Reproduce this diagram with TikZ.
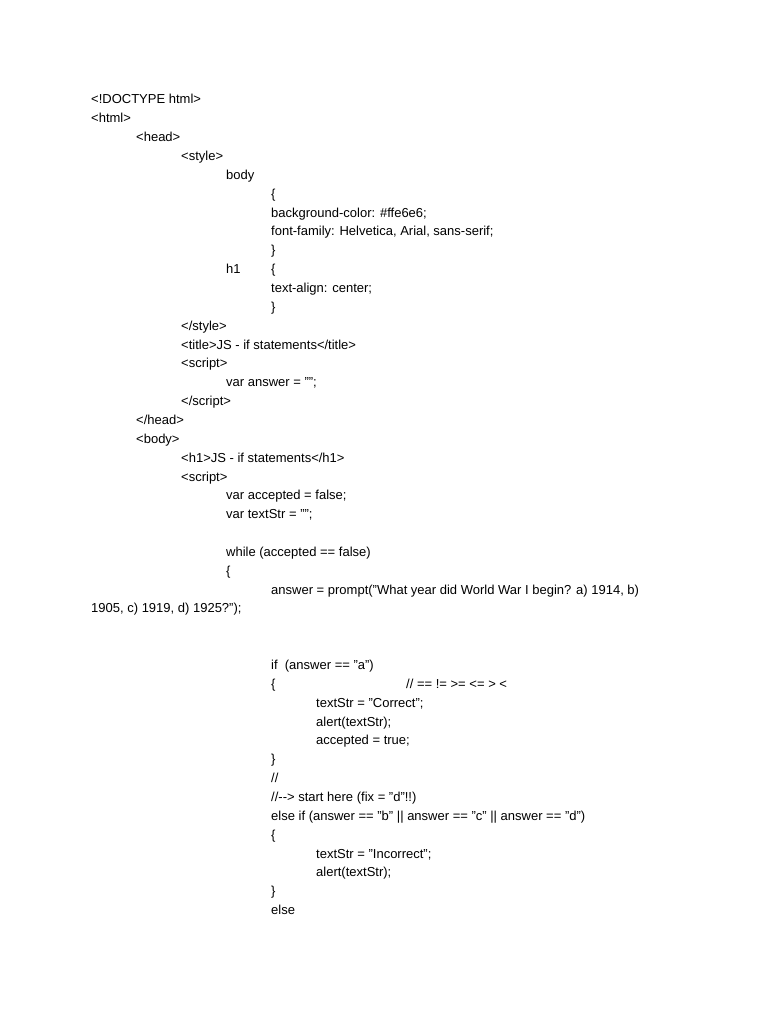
\documentclass[tikz,border=0pt]{standalone}
\usepackage{fontspec}
\setmainfont{Liberation Sans}[Ligatures=NoCommon]
\begin{document}
\begin{tikzpicture}[x=1pt,y=-1pt,codeline/.style={anchor=base west,inner sep=0pt,font=\fontsize{13}{15}\selectfont}]
\useasboundingbox[fill=white] (0,0) rectangle (768,1024);
\def\L#1#2#3{\node[codeline] (n#1x#2) at (#2,{104+18.85*#1}) {#3};}
\L{0}{91}{<!DOCTYPE html>}
\L{1}{91}{<html>}
\L{2}{136}{<head>}
\L{3}{181}{<style>}
\L{4}{226}{body}
\L{5}{271}{\{}
\L{6}{271}{background-color: \#ffe6e6;}
\L{7}{271}{font-family: Helvetica, Arial, sans-serif;}
\L{8}{271}{\}}
\L{9}{226}{h1}
\L{9}{271}{\{}
\L{10}{271}{text-align: center;}
\L{11}{271}{\}}
\L{12}{181}{</style>}
\L{13}{181}{<title>JS - if statements</title>}
\L{14}{181}{<script>}
\L{15}{226}{var answer = "";}
\L{16}{181}{</script>}
\L{17}{136}{</head>}
\L{18}{136}{<body>}
\L{19}{181}{<h1>JS - if statements</h1>}
\L{20}{181}{<script>}
\L{21}{226}{var accepted = false;}
\L{22}{226}{var textStr = "";}
\L{24}{226}{while (accepted == false)}
\L{25}{226}{\{}
\L{26}{271}{answer = prompt("What year did World War I begin? a) 1914, b)}
\L{27}{91}{1905, c) 1919, d) 1925?");}
\L{30}{271}{if\ \ (answer == "a")}
\L{31}{271}{\{}
\L{31}{406}{// == != >= <= > <}
\L{32}{316}{textStr = "Correct";}
\L{33}{316}{alert(textStr);}
\L{34}{316}{accepted = true;}
\L{35}{271}{\}}
\L{36}{271}{//}
\L{37}{271}{//-{}-> start here (fix = "d"!!)}
\L{38}{271}{else if (answer == "b" || answer == "c" || answer == "d")}
\L{39}{271}{\{}
\L{40}{316}{textStr = "Incorrect";}
\L{41}{316}{alert(textStr);}
\L{42}{271}{\}}
\L{43}{271}{else}
\end{tikzpicture}
\end{document}
